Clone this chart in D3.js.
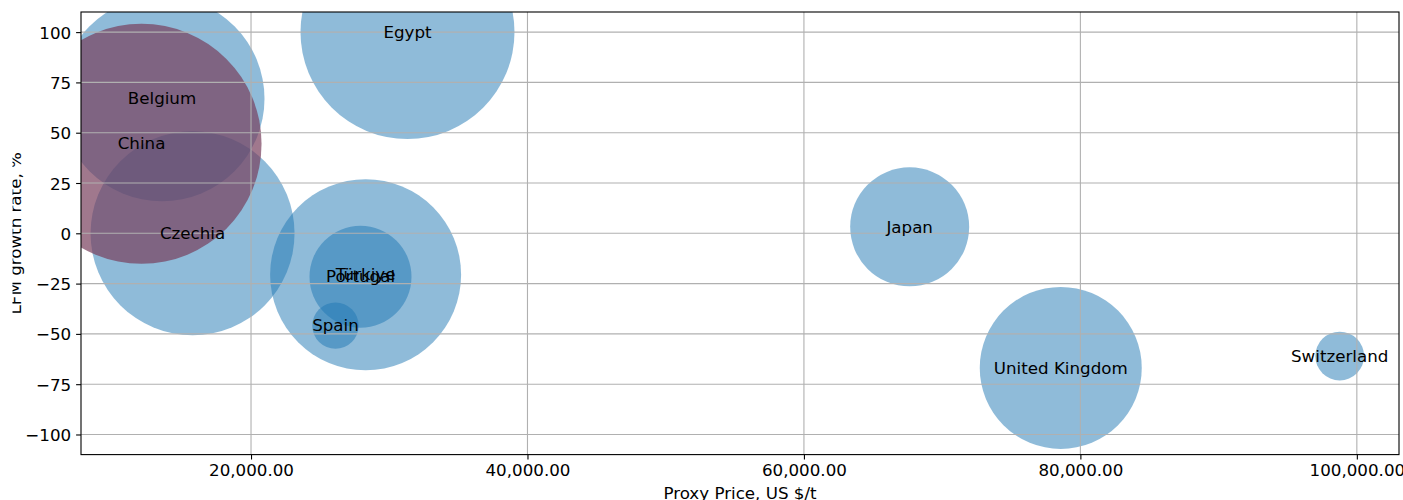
<!DOCTYPE html>
<html>
<head>
<meta charset="utf-8">
<script src="https://cdn.jsdelivr.net/npm/d3@7"></script>
<style>
  html, body { margin: 0; padding: 0; background: #fff; }
  svg { display: block; font-family: "DejaVu Sans", sans-serif; }
</style>
</head>
<body>
<div id="graph0"></div>
<script>
// ------- data --------

var countries = ['Belgium', 'China', 'Czechia', 'Egypt', 'Japan', 'Portugal', 'Spain', 'Switzerland', 'Türkiye', 'United Kingdom']
var price = [13560, 12080, 15770, 31320, 67650, 27920, 26110, 98760, 28290, 78580]
var growth = [66.9, 44.5, 0, 100, 3.2, -21.6, -45.9, -61, -20.6, -66.9]
var bubble = [10506, 14400, 10404, 11449, 3540, 2601, 538, 595, 9120, 6561]
var highlight = 'China'

var xTicks = [20000, 40000, 60000, 80000, 100000]
var yTicks = [-100, -75, -50, -25, 0, 25, 50, 75, 100]

var data = countries.map(function(c, i) {
    return {name: c, price: price[i], growth: growth[i], size: bubble[i]}
})

// highlighted country is drawn last, on top of the others
var drawOrder = data.filter(function(d) { return d.name != highlight })
    .concat(data.filter(function(d) { return d.name == highlight }))

// ------- svg --------

var width = 1403, height = 500
var margin = {top: 12, right: 4, bottom: 45.4, left: 81}
var w = width - margin.left - margin.right,
    h = height - margin.top - margin.bottom

var svg = d3.select('#graph0').html('')
    .append('svg')
    .attr('width', width)
    .attr('height', height)

var x = d3.scaleLinear().domain([7700, 103050]).range([0, w]),
    y = d3.scaleLinear().domain([-110, 110]).range([h, 0]),
    r = d3.scaleSqrt().domain([0, 14400]).range([0, 120])

var g = svg.append('g')
    .attr('transform', 'translate(' + margin.left + ',' + margin.top + ')')

g.append('clipPath').attr('id', 'plot-clip')
    .append('rect').attr('width', w).attr('height', h)

// bubbles
g.append('g')
    .attr('clip-path', 'url(#plot-clip)')
    .selectAll('circle')
    .data(drawOrder)
    .enter()
    .append('circle')
    .attr('cx', function(d) { return x(d.price) })
    .attr('cy', function(d) { return y(d.growth) })
    .attr('r', function(d) { return r(d.size) })
    .style('fill', function(d) { return d.name == highlight ? '#773f5c' : '#1f77b4' })
    .style('opacity', function(d) { return d.name == highlight ? 0.7 : 0.5 })

// grid (drawn over the bubbles like matplotlib)
var grid = g.append('g').attr('class', 'grid')
grid.selectAll('.gx').data(xTicks).enter().append('line')
    .attr('x1', function(d) { return x(d) }).attr('x2', function(d) { return x(d) })
    .attr('y1', 0).attr('y2', h)
    .style('stroke', '#b0b0b0').style('stroke-width', 1.1)
grid.selectAll('.gy').data(yTicks).enter().append('line')
    .attr('y1', function(d) { return y(d) }).attr('y2', function(d) { return y(d) })
    .attr('x1', 0).attr('x2', w)
    .style('stroke', '#b0b0b0').style('stroke-width', 1.1)

// axes
var xAxis = d3.axisBottom(x).tickValues(xTicks).tickFormat(d3.format(',.2f'))
    .tickSizeInner(4.9).tickSizeOuter(0).tickPadding(4.9)
var yAxis = d3.axisLeft(y).tickValues(yTicks).tickFormat(function(d) { return d < 0 ? '\u2212' + Math.abs(d) : d })
    .tickSizeInner(4.9).tickSizeOuter(0).tickPadding(4.9)

var gx = g.append('g').attr('transform', 'translate(0,' + h + ')').call(xAxis)
var gy = g.append('g').call(yAxis)

;[gx, gy].forEach(function(a) {
    a.select('.domain').remove()
    a.selectAll('line').style('stroke', '#000').style('stroke-width', 1.1)
    a.selectAll('text').style('font-size', '16.7px').style('fill', '#000').style('font-family', 'DejaVu Sans')
})
gx.selectAll('text').attr('dy', '0.72em')
gy.selectAll('text').attr('dy', '0.36em')

// frame
g.append('rect')
    .attr('width', w).attr('height', h)
    .style('fill', 'none').style('stroke', '#000').style('stroke-width', 1.1)

// bubble labels
g.append('g').selectAll('text')
    .data(data)
    .enter()
    .append('text')
    .attr('x', function(d) { return x(d.price) })
    .attr('y', function(d) { return y(d.growth) })
    .attr('dy', '0.34em')
    .style('text-anchor', 'middle')
    .style('font-size', '16.7px')
    .style('fill', '#000')
    .text(function(d) { return d.name })

// axis titles
svg.append('text')
    .attr('x', margin.left + w / 2)
    .attr('y', 499)
    .style('text-anchor', 'middle')
    .style('font-size', '16.7px')
    .text('Proxy Price, US $/t')

svg.append('clipPath').attr('id', 'ylab-clip')
    .append('rect').attr('x', 12.5).attr('y', 0).attr('width', 40).attr('height', height)

svg.append('g')
    .attr('clip-path', 'url(#ylab-clip)')
    .append('text')
    .attr('transform', 'translate(20.5,' + (margin.top + h / 2) + ')rotate(-90)')
    .style('text-anchor', 'middle')
    .style('font-size', '16.7px')
    .text('LFM growth rate, %')
</script>
</body>
</html>
